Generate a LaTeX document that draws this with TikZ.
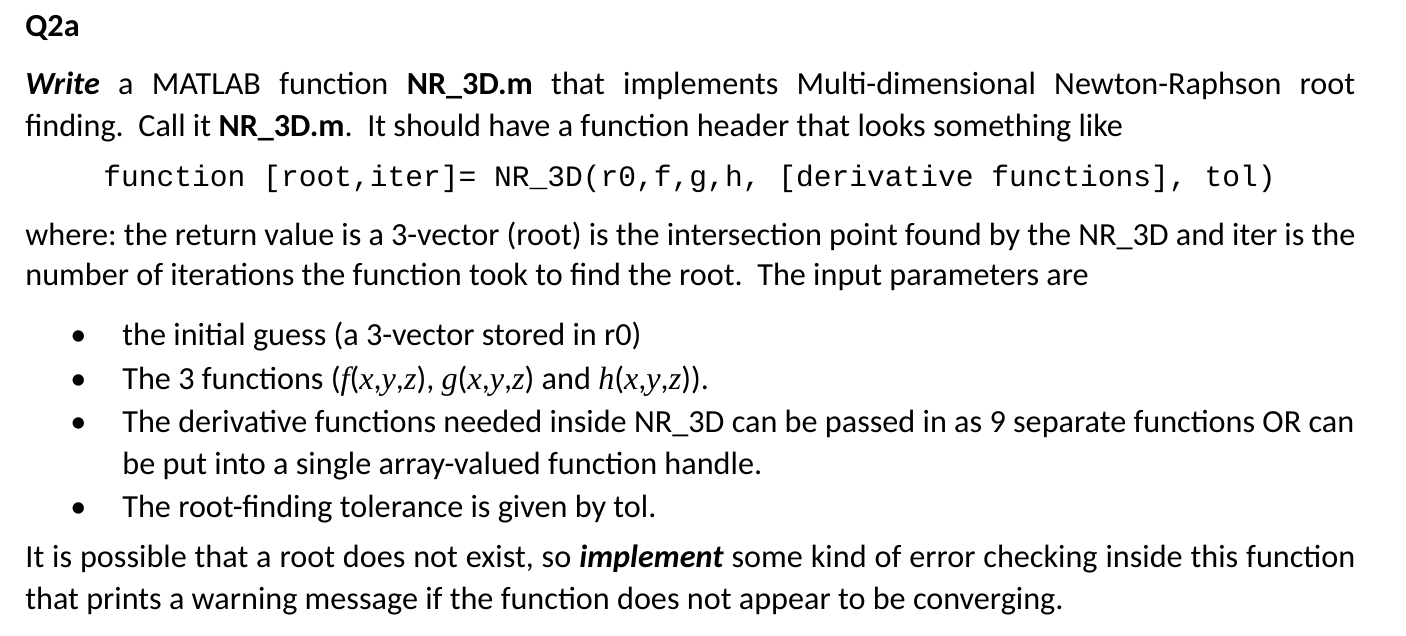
\documentclass[tikz,border=0pt]{standalone}
\usepackage{fontspec}
\setmainfont{Carlito}
\newfontfamily\codefont{Liberation Mono}
\newfontfamily\timesfam{Liberation Serif}
\newcommand{\mi}[1]{{\timesfam\itshape #1}}
\frenchspacing
\begin{document}
\begin{tikzpicture}[x=0.5pt,y=-0.5pt,
  txt/.style={anchor=base west,inner sep=0pt,font=\fontsize{16.1pt}{19pt}\selectfont},
  code/.style={anchor=base west,inner sep=0pt,font=\codefont\fontsize{14.8pt}{17pt}\selectfont}]
\useasboundingbox[fill=white] (0,0) rectangle (1406,636);
\node[txt,font=\bfseries\fontsize{16.1pt}{19pt}\selectfont] (q) at (25,37) {Q2a};
\node[txt] (l1) at (25,95) {\hbox to 665pt{\textbf{\textit{Write}} a MATLAB function \textbf{NR\_3D.m} that implements Multi-dimensional Newton-Raphson root}};
\node[txt] (l2) at (25,137) {finding.\ \ Call it \textbf{NR\_3D.m}.\ \ It should have a function header that looks something like};
\node[code] (c) at (103,187) {function [root,iter]= NR\_3D(r0,f,g,h, [derivative functions], tol)};
\node[txt] (l3) at (25,245) {\hbox to 665pt{where: the return value is a 3-vector (root) is the intersection point found by the NR\_3D and iter is the}};
\node[txt] (l4) at (25,285) {number of iterations the function took to find the root.\ \ The input parameters are};
\foreach \y/\n in {345/b1,389/b2,432/b3,517/b4}{\node[txt] (\n) at (70,\y) {\textbullet};}
\node[txt] (i1) at (122,345) {the initial guess (a 3-vector stored in r0)};
\node[txt] (i2) at (122,389) {The 3 functions (\mi{f}(\mi{x},\mi{y},\mi{z}), \mi{g}(\mi{x},\mi{y},\mi{z}) and \mi{h}(\mi{x},\mi{y},\mi{z})).};
\node[txt] (i3) at (122,432) {\hbox to 616pt{The derivative functions needed inside NR\_3D can be passed in as 9 separate functions OR can}};
\node[txt] (i3b) at (122,474) {be put into a single array-valued function handle.};
\node[txt] (i4) at (122,517) {The root-finding tolerance is given by tol.};
\node[txt] (l5) at (25,567) {\hbox to 665pt{It is possible that a root does not exist, so \textbf{\textit{implement}} some kind of error checking inside this function}};
\node[txt] (l6) at (25,609) {that prints a warning message if the function does not appear to be converging.};
\end{tikzpicture}
\end{document}
